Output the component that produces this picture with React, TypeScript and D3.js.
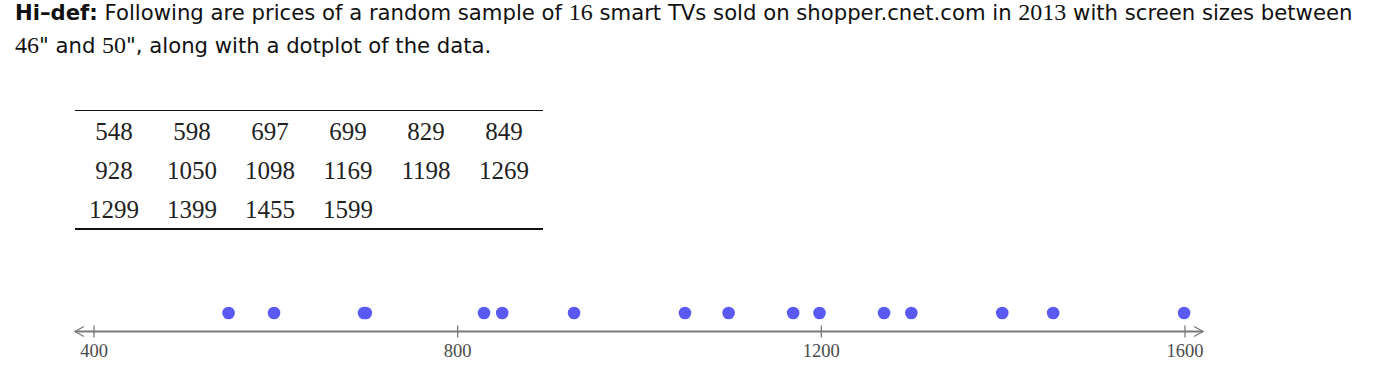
import React from "react";
import * as d3 from "d3";

const prices = [548, 598, 697, 699, 829, 849, 928, 1050, 1098, 1169, 1198, 1269, 1299, 1399, 1455, 1599];
const tickValues = [400, 800, 1200, 1600];
const tableColumns = 6;

const W = 1378;
const H = 387;

export default function App() {
  const x = d3.scaleLinear().domain([400, 1600]).range([94, 1185]);
  const axisY = 331.5;
  const dotY = 313;
  const axisColor = "#7a7a7a";
  const dotColor = "#5a5af2";

  const rows = d3.range(Math.ceil(prices.length / tableColumns)).map((r) =>
    prices.slice(r * tableColumns, r * tableColumns + tableColumns)
  );
  const colX = d3.scaleLinear().domain([0, 5]).range([114, 504]);
  const rowY = d3.scaleLinear().domain([0, 2]).range([140, 218]);

  const sans = "DejaVu Sans, Verdana, sans-serif";
  const serif = "Liberation Serif, Times New Roman, serif";

  const xMin = 75;
  const xMax = 1203;
  const fs = 21.2;
  const nfs = 24;

  return (
    <div style={{ position: "absolute", left: 0, top: 0 }}>
      <svg width={W} height={H} style={{ display: "block", background: "#fff" }}>
        <text x={15} y={20} style={{ fontFamily: sans, fontSize: fs }} fill="#111">
          <tspan style={{ fontWeight: "bold" }}>Hi–def:</tspan>
          <tspan> Following are prices of a random sample of </tspan>
          <tspan style={{ fontFamily: serif, fontSize: nfs }}>16</tspan>
          <tspan> smart TVs sold on shopper.cnet.com in </tspan>
          <tspan style={{ fontFamily: serif, fontSize: nfs }}>2013</tspan>
          <tspan> with screen sizes between</tspan>
        </text>
        <text x={15} y={53} style={{ fontFamily: sans, fontSize: fs }} fill="#111">
          <tspan style={{ fontFamily: serif, fontSize: nfs }}>46</tspan>
          <tspan>" and </tspan>
          <tspan style={{ fontFamily: serif, fontSize: nfs }}>50</tspan>
          <tspan>", along with a dotplot of the data.</tspan>
        </text>

        {/* table */}
        <line x1={75} x2={543} y1={110.5} y2={110.5} stroke="#111" strokeWidth={1} />
        <line x1={75} x2={543} y1={229} y2={229} stroke="#111" strokeWidth={2} />
        {rows.map((row, ri) =>
          row.map((v, ci) => (
            <text
              key={`${ri}-${ci}`}
              x={colX(ci)}
              y={rowY(ri)}
              textAnchor="middle"
              style={{ fontFamily: serif, fontSize: 25 }}
              fill="#222"
            >
              {v}
            </text>
          ))
        )}

        {/* axis */}
        <line x1={xMin} x2={xMax} y1={axisY} y2={axisY} stroke={axisColor} strokeWidth={2} />
        <path
          d={`M${xMin + 9},${axisY - 5} L${xMin},${axisY} L${xMin + 9},${axisY + 5}`}
          fill="none"
          stroke={axisColor}
          strokeWidth={1.3}
        />
        <path
          d={`M${xMax - 9},${axisY - 5} L${xMax},${axisY} L${xMax - 9},${axisY + 5}`}
          fill="none"
          stroke={axisColor}
          strokeWidth={1.3}
        />
        {tickValues.map((t) => (
          <g key={t}>
            <line x1={x(t)} x2={x(t)} y1={axisY - 6} y2={axisY + 6} stroke={axisColor} strokeWidth={1.3} />
            <text
              x={x(t)}
              y={357}
              textAnchor="middle"
              style={{ fontFamily: serif, fontSize: 18.5 }}
              fill="#4a4a4a"
            >
              {t}
            </text>
          </g>
        ))}

        {prices.map((p, i) => (
          <circle key={i} cx={x(p)} cy={dotY} r={6.3} fill={dotColor} />
        ))}
      </svg>
    </div>
  );
}
